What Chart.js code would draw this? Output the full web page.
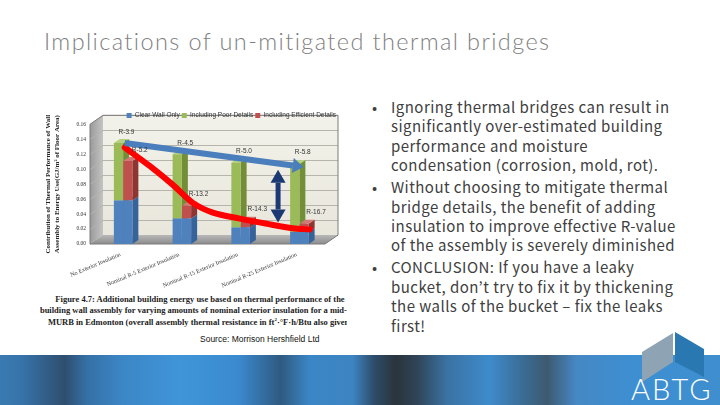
<!DOCTYPE html>
<html lang="en">
<head>
<meta charset="UTF-8">
<title>Implications of un-mitigated thermal bridges</title>
<script src="https://cdn.jsdelivr.net/npm/chart.js"></script>
<style>
  html, body { margin: 0; padding: 0; }
  body {
    width: 720px; height: 405px;
    position: relative; overflow: hidden;
    background: #fff;
    font-family: 'Noto Sans', sans-serif;
  }
  h1 {
    position: absolute; left: 44px; top: 27px; margin: 0;
    font-family: Lato, sans-serif; font-weight: 300;
    font-size: 23.5px; letter-spacing: 1.4px;
    color: #7f7f7f; white-space: nowrap;
  }
  .chart-box { position: absolute; left: 38px; top: 104px; width: 310px; height: 190px; }
  .caption {
    position: absolute; left: 40px; top: 294px; width: 307px; height: 34px; overflow: hidden;
  }
  .caption div {
    position: absolute; left: -62px; width: 444px; top: 0;
    text-align: center; white-space: nowrap;
    font-family: 'Liberation Serif', serif; font-weight: bold;
    font-size: 8.5px; line-height: 10.6px; color: #222;
  }
  .source {
    position: absolute; left: 200px; top: 334px;
    font-family: 'Liberation Sans', sans-serif; font-size: 8.5px; color: #111;
  }
  .bullets {
    position: absolute; left: 372px; top: 97px; width: 345px;
    font-family: 'Noto Sans CJK JP', sans-serif; font-size: 15px;
    line-height: 19.4px; color: #404040; letter-spacing: 0.45px;
  }
  .item { position: relative; padding-left: 19px; margin-bottom: 2.6px; white-space: nowrap; }
  .item .dot { position: absolute; left: 0; top: 0; }
  .band {
    position: absolute; left: 0; top: 355px; width: 720px; height: 50px;
    background: linear-gradient(90deg, #3a7ab2 0%, #3673aa 3%, #2f4e6e 9%, #3470a5 12%, #3c86c6 17%,
      #3f95d8 25%, #3b8ad0 33%, #2f5a80 39%, #3b86c6 43%, #3d84c2 49%, #2d4c68 52%, #2a343c 55%,
      #2f4558 58%, #3a72a2 62%, #3e8bcc 68%, #3a6a90 73%, #3d5a70 76%, #4588c4 80%, #3d8fd2 88%, #3f8fcf 100%);
  }
  .logo { position: absolute; left: 628px; top: 328px; width: 92px; height: 77px; }
  .logo-text {
    position: absolute; left: 631px; top: 374px;
    font-family: Lato, sans-serif; font-weight: 300; font-size: 29px;
    color: #fff; line-height: 29px; letter-spacing: 2px;
  }
</style>
</head>
<body>
  <h1>Implications of un-mitigated thermal bridges</h1>

  <div class="chart-box">
    <canvas id="bridgeChart" width="310" height="190"></canvas>
  </div>

  <div class="caption">
    <div>Figure 4.7: Additional building energy use based on thermal performance of the<br>
    building wall assembly for varying amounts of nominal exterior insulation for a mid-rise<br>
    MURB in Edmonton (overall assembly thermal resistance in ft<sup style="font-size:5px">2</sup>·°F·h/Btu also given)</div>
  </div>
  <div class="source">Source: Morrison Hershfield Ltd</div>

  <div class="bullets">
    <div class="item"><span class="dot">•</span>Ignoring thermal bridges can result in<br>significantly over-estimated building<br>performance and moisture<br>condensation (corrosion, mold, rot).</div>
    <div class="item"><span class="dot">•</span>Without choosing to mitigate thermal<br>bridge details, the benefit of adding<br>insulation to improve effective R-value<br>of the assembly is severely diminished</div>
    <div class="item"><span class="dot">•</span>CONCLUSION: If you have a leaky<br>bucket, don’t try to fix it by thickening<br>the walls of the bucket – fix the leaks<br>first!</div>
  </div>

  <div class="band"></div>
  <svg class="logo" viewBox="0 0 92 77">
    <polygon points="14,24 45,5 45,34 14,54" fill="#8ea3b4"/>
    <polygon points="47,4 76,21 76,49 47,34" fill="#2a78b2"/>
  </svg>
  <div class="logo-text">ABTG</div>

<script>
  const categories = [
    'No Exterior Insulation',
    'Nominal R-5 Exterior Insulation',
    'Nominal R-15 Exterior Insulation',
    'Nominal R-25 Exterior Insulation'
  ];
  const clearWall = [0.058, 0.034, 0.022, 0.016];
  const poorDetails = [0.077, 0.086, 0.087, 0.091];
  const efficientDetails = [0.053, 0.017, 0.009, 0.011];
  const poorRValues = ['R-3.9', 'R-4.5', 'R-5.0', 'R-5.8'];
  const efficientRValues = ['R-5.2', 'R-13.2', 'R-14.3', 'R-16.7'];

  // hand drawn marks on the figure, x in category units (0 = first group)
  const redCurveX = [-0.13, 0.30, 0.69, 1.03, 1.37, 1.83, 2.29, 2.73, 3.02];
  const redCurveY = [0.129, 0.104, 0.079, 0.055, 0.042, 0.034, 0.027, 0.021, 0.0195];
  const blueArrowX = [-0.13, 2.73];
  const blueArrowY = [0.135, 0.105];
  const gapArrowX = [2.48, 2.48];
  const gapArrowY = [0.082, 0.046];

  const toPoints = (xs, ys) => xs.map((x, i) => ({ x: x, y: ys[i] }));

  // legend sits on the top of the back wall, so let it take less room
  const legendInWall = {
    id: 'legendInWall',
    beforeLayout(chart) {
      const lg = chart.legend;
      if (!lg || lg._wrapped) return;
      const fit = lg.fit;
      lg.fit = function () {
        fit.call(this);
        this.height = 14;
      };
      lg._wrapped = true;
    }
  };

  // back wall, side wall and floor of the 3d plot
  const wall3d = {
    id: 'wall3d',
    beforeDraw(chart) {
      const { ctx, chartArea: a, scales } = chart;
      const dx = 13, dy = 9;
      ctx.save();
      // side wall
      let g = ctx.createLinearGradient(a.left - dx, 0, a.left, 0);
      g.addColorStop(0, '#9a9a9a');
      g.addColorStop(1, '#c4c4c4');
      ctx.fillStyle = g;
      ctx.beginPath();
      ctx.moveTo(a.left - dx, a.top);
      ctx.lineTo(a.left, a.top - dy);
      ctx.lineTo(a.left, a.bottom - dy);
      ctx.lineTo(a.left - dx, a.bottom);
      ctx.closePath();
      ctx.fill();
      // back wall
      g = ctx.createLinearGradient(0, a.top - dy, 0, a.bottom - dy);
      g.addColorStop(0, '#f3f2ea');
      g.addColorStop(1, '#e9e7dc');
      ctx.fillStyle = g;
      ctx.fillRect(a.left, a.top - dy, a.right - a.left, a.bottom - a.top);
      // grid lines
      ctx.strokeStyle = '#b5b5ad';
      ctx.lineWidth = 1;
      scales.y.ticks.forEach(t => {
        const py = Math.round(scales.y.getPixelForValue(t.value)) + 0.5;
        ctx.beginPath();
        ctx.moveTo(a.left - dx, py);
        ctx.lineTo(a.left, py - dy);
        ctx.lineTo(a.right, py - dy);
        ctx.stroke();
      });
      // floor
      g = ctx.createLinearGradient(0, a.bottom - dy, 0, a.bottom);
      g.addColorStop(0, '#b8b8b8');
      g.addColorStop(1, '#8c8c8c');
      ctx.fillStyle = g;
      ctx.beginPath();
      ctx.moveTo(a.left - dx, a.bottom);
      ctx.lineTo(a.left, a.bottom - dy);
      ctx.lineTo(a.right, a.bottom - dy);
      ctx.lineTo(a.right - dx, a.bottom);
      ctx.closePath();
      ctx.fill();
      // outlines
      ctx.strokeStyle = '#7a7a7a';
      ctx.beginPath();
      ctx.moveTo(a.left - dx, a.bottom);
      ctx.lineTo(a.left - dx, a.top);
      ctx.lineTo(a.left, a.top - dy);
      ctx.lineTo(a.right, a.top - dy);
      ctx.lineTo(a.right, a.bottom - dy);
      ctx.lineTo(a.right - dx, a.bottom);
      ctx.lineTo(a.left - dx, a.bottom);
      ctx.stroke();
      ctx.restore();
    }
  };

  // side and top faces of the bars
  const bars3d = {
    id: 'bars3d',
    beforeDatasetsDraw(chart) {
      const ctx = chart.ctx;
      const d = 6, h = 4;
      ctx.save();
      chart.data.datasets.forEach((ds, i) => {
        if (ds.type === 'line') return;
        chart.getDatasetMeta(i).data.forEach(bar => {
          const p = bar.getProps(['x', 'y', 'base', 'width'], true);
          const l = p.x - p.width / 2, r = p.x + p.width / 2;
          ctx.fillStyle = ds.sideColor;
          ctx.beginPath();
          ctx.moveTo(r, p.y); ctx.lineTo(r + d, p.y - h);
          ctx.lineTo(r + d, p.base - h); ctx.lineTo(r, p.base);
          ctx.closePath(); ctx.fill();
          ctx.fillStyle = ds.topColor;
          ctx.beginPath();
          ctx.moveTo(l, p.y); ctx.lineTo(l + d, p.y - h);
          ctx.lineTo(r + d, p.y - h); ctx.lineTo(r, p.y);
          ctx.closePath(); ctx.fill();
        });
      });
      ctx.restore();
    }
  };

  // arrow heads on the drawn lines, then the R-value labels
  const arrowHeads = {
    id: 'arrowHeads',
    afterDatasetsDraw(chart) {
      const ctx = chart.ctx;
      chart.data.datasets.forEach((ds, i) => {
        if (!ds.heads) return;
        const pts = chart.getDatasetMeta(i).data;
        const head = (base, from) => {
          const ang = Math.atan2(base.y - from.y, base.x - from.x);
          const len = ds.headLength, half = ds.headWidth / 2;
          ctx.save();
          ctx.translate(base.x, base.y);
          ctx.rotate(ang);
          ctx.beginPath();
          ctx.moveTo(len, 0);
          ctx.lineTo(0, -half);
          ctx.lineTo(0, half);
          ctx.closePath();
          ctx.fillStyle = ds.borderColor;
          ctx.fill();
          ctx.restore();
        };
        const n = pts.length;
        if (ds.heads.includes('end')) head(pts[n - 1], pts[n - 2]);
        if (ds.heads.includes('start')) head(pts[0], pts[1]);
      });

      ctx.save();
      ctx.font = '6.5px "Liberation Sans"';
      ctx.fillStyle = '#333';
      ctx.textAlign = 'center';
      ctx.textBaseline = 'bottom';
      [[1, poorRValues, 8], [3, efficientRValues, 12]].forEach(([idx, labels, shift]) => {
        chart.getDatasetMeta(idx).data.forEach((bar, j) => {
          ctx.fillText(labels[j], bar.x + shift, bar.y - 8);
        });
      });
      ctx.restore();
    }
  };

  Chart.defaults.font.family = '"Liberation Sans", sans-serif';
  Chart.defaults.color = '#333';

  const ctx = document.getElementById('bridgeChart').getContext('2d');
  new Chart(ctx, {
    type: 'bar',
    data: {
      labels: categories,
      datasets: [
        {
          label: 'Clear Wall Only', data: clearWall, stack: 'poor',
          backgroundColor: '#4f81bd', sideColor: '#36639a', topColor: '#7aa0d2', order: 2
        },
        {
          label: 'Including Poor Details', data: poorDetails, stack: 'poor',
          backgroundColor: '#9bbb59', sideColor: '#728f38', topColor: '#b5d07e', order: 2
        },
        {
          label: 'Clear Wall Only', data: clearWall, stack: 'eff', legend: false,
          backgroundColor: '#4f81bd', sideColor: '#36639a', topColor: '#7aa0d2', order: 2
        },
        {
          label: 'Including Efficient Details', data: efficientDetails, stack: 'eff',
          backgroundColor: '#c0504d', sideColor: '#8e3431', topColor: '#d27a77', order: 2
        },
        {
          type: 'line', label: 'trend', legend: false, xAxisID: 'x2', stack: 'red',
          data: toPoints(redCurveX, redCurveY),
          borderColor: '#ff0000', borderWidth: 6, borderCapStyle: 'round',
          pointRadius: 0, tension: 0.3, order: 1
        },
        {
          type: 'line', label: 'poor', legend: false, xAxisID: 'x2', stack: 'blue',
          data: toPoints(blueArrowX, blueArrowY),
          borderColor: '#4a7ebd', borderWidth: 6, pointRadius: 0, order: 0,
          heads: ['end'], headLength: 11, headWidth: 15
        },
        {
          type: 'line', label: 'gap', legend: false, xAxisID: 'x2', stack: 'navy',
          data: toPoints(gapArrowX, gapArrowY),
          borderColor: '#1b3a73', borderWidth: 5, pointRadius: 0, order: 0,
          heads: ['start', 'end'], headLength: 13, headWidth: 15
        }
      ]
    },
    options: {
      responsive: false,
      animation: false,
      layout: { padding: { top: 4, right: 10, left: 0, bottom: 0 } },
      datasets: { bar: { barPercentage: 1, categoryPercentage: 0.63 } },
      plugins: {
        legend: {
          position: 'top',
          align: 'end',
          labels: {
            boxWidth: 5, boxHeight: 5, padding: 2,
            font: { size: 6.5 }, color: '#333',
            filter: (item, data) => data.datasets[item.datasetIndex].legend !== false
          }
        },
        tooltip: { enabled: false }
      },
      scales: {
        x: {
          stacked: true,
          grid: { display: false, drawTicks: false },
          border: { display: false },
          ticks: {
            minRotation: 23, maxRotation: 23, autoSkip: false,
            labelOffset: -12, padding: 7,
            font: { family: '"Liberation Serif", serif', size: 6 }, color: '#333'
          },
          afterFit: s => { s.height = 50; }
        },
        x2: { type: 'linear', display: false, offset: false, min: -0.5, max: 3.5 },
        y: {
          stacked: true,
          min: 0, max: 0.16,
          grid: { display: false, drawTicks: false },
          border: { display: false },
          ticks: {
            stepSize: 0.02, padding: 17,
            callback: v => v.toFixed(2),
            font: { family: '"Liberation Serif", serif', size: 5.5 }, color: '#333'
          },
          title: {
            display: true,
            text: ['Contribution of Thermal Performance of Wall', 'Assembly to Energy Use(GJ/m² of Floor Area)'],
            font: { family: '"Liberation Serif", serif', size: 7, weight: 'bold', lineHeight: 1.3 },
            color: '#222', padding: { top: 6, bottom: 0 }
          },
          afterFit: s => { s.width = 65; }
        }
      }
    },
    plugins: [legendInWall, wall3d, bars3d, arrowHeads]
  });
</script>
</body>
</html>
